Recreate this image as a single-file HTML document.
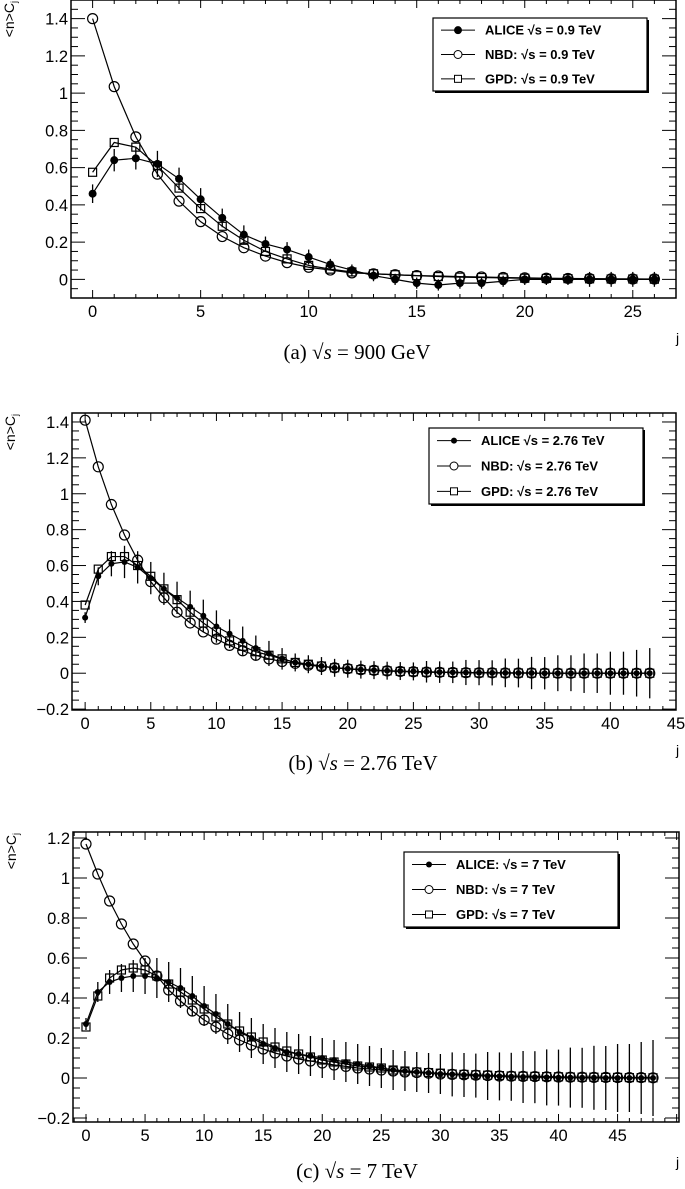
<!DOCTYPE html>
<html><head><meta charset="utf-8"><style>
html,body{margin:0;padding:0;background:#fff;}
svg{display:block;}
text{font-family:"Liberation Sans",sans-serif;fill:#000;}
.cap{font-family:"Liberation Serif",serif;font-size:21px;}
.leg{font-weight:bold;font-size:13px;}
</style></head><body>
<svg id="c" width="685" height="1189" viewBox="0 0 685 1189" xmlns="http://www.w3.org/2000/svg"></svg>
<script>
// Panel (a) sqrt(s)=0.9 TeV
const aAlice=[.46,.64,.65,.62,.54,.43,.33,.24,.19,.16,.12,.08,.05,.02,0,-.02,-.03,-.02,-.02,-.01,0,0,0,0,0,0,0];
const aAliceErr=[.05,.06,.06,.07,.06,.06,.05,.05,.04,.04,.04,.03,.03,.03,.03,.03,.03,.03,.03,.03,.03,.03,.03,.04,.04,.04,.04];
const aNBD=[1.40,1.035,.765,.565,.42,.31,.23,.17,.125,.09,.065,.05,.035,.03,.025,.02,.018,.015,.013,.01,.008,.006,.005,.004,.003,.002,.002];
const aGPD=[.575,.735,.71,.61,.49,.38,.285,.21,.15,.11,.075,.055,.04,.03,.025,.02,.015,.012,.01,.008,.006,.005,.004,.003,.002,.002,.001];
// Panel (b) sqrt(s)=2.76 TeV
const bAlice=[.31,.54,.61,.62,.59,.53,.47,.42,.37,.32,.26,.22,.18,.14,.11,.08,.06,.05,.04,.03,.025,.02,.017,.014,.012,.01,.008,.006,.005,.004,.003,.002,.002,.001,.001,0,0,0,0,0,0,0,0,0];
const bAliceErr=[.03,.05,.07,.09,.09,.09,.09,.09,.09,.09,.09,.08,.08,.07,.07,.06,.05,.05,.05,.05,.05,.05,.05,.05,.05,.05,.06,.06,.06,.07,.07,.07,.08,.08,.09,.09,.1,.1,.11,.11,.12,.12,.13,.14];
const bNBD=[1.41,1.15,.94,.77,.63,.51,.42,.34,.28,.23,.19,.155,.125,.10,.08,.065,.055,.045,.037,.03,.025,.02,.016,.013,.01,.008,.006,.005,.004,.003,.002,.002,.001,.001,.001,0,0,0,0,0,0,0,0,0];
const bGPD=[.38,.58,.65,.65,.60,.54,.47,.41,.34,.28,.23,.18,.15,.12,.10,.08,.06,.05,.04,.03,.025,.02,.016,.013,.01,.008,.006,.005,.004,.003,.002,.002,.001,.001,.001,0,0,0,0,0,0,0,0,0];
// Panel (c) sqrt(s)=7 TeV
const cAlice=[.27,.43,.48,.50,.51,.51,.50,.48,.45,.41,.36,.32,.27,.23,.20,.17,.15,.13,.12,.11,.10,.09,.08,.07,.06,.05,.04,.035,.03,.025,.02,.018,.015,.012,.01,.008,.006,.005,.004,.003,.002,.002,.001,.001,0,0,0,0,0];
const cAliceErr=[.03,.05,.06,.07,.08,.09,.1,.1,.1,.1,.1,.1,.1,.1,.1,.1,.1,.1,.1,.1,.1,.1,.1,.1,.1,.1,.1,.1,.1,.1,.1,.11,.11,.11,.12,.12,.12,.13,.13,.14,.14,.15,.15,.16,.16,.17,.17,.18,.19];
const cNBD=[1.17,1.02,.885,.77,.67,.585,.51,.44,.385,.335,.29,.255,.22,.19,.165,.145,.125,.11,.095,.085,.075,.065,.058,.05,.045,.04,.035,.03,.027,.024,.02,.018,.016,.014,.012,.01,.009,.008,.007,.006,.005,.004,.004,.003,.003,.002,.002,.002,.001];
const cGPD=[.255,.41,.50,.54,.55,.54,.51,.47,.43,.39,.345,.305,.27,.235,.205,.18,.155,.135,.12,.105,.09,.08,.07,.06,.055,.05,.04,.035,.03,.027,.024,.02,.018,.016,.014,.012,.01,.009,.008,.007,.006,.005,.004,.004,.003,.003,.002,.002,.001];
const aYTicks=["0","0.2","0.4","0.6","0.8","1","1.2","1.4"];
const bYTicks=["−0.2","0","0.2","0.4","0.6","0.8","1","1.2","1.4"];
const cYTicks=["−0.2","0","0.2","0.4","0.6","0.8","1","1.2"];
const aXTicks=[0,5,10,15,20,25];
const bXTicks=[0,5,10,15,20,25,30,35,40,45];
const cXTicks=[0,5,10,15,20,25,30,35,40,45];
const aLegend=["ALICE  √s = 0.9 TeV","NBD:  √s = 0.9 TeV","GPD:  √s = 0.9 TeV"];
const bLegend=["ALICE  √s = 2.76 TeV","NBD:  √s = 2.76 TeV","GPD:  √s = 2.76 TeV"];
const cLegend=["ALICE:  √s = 7 TeV","NBD:  √s = 7 TeV","GPD:  √s = 7 TeV"];

const NS="http://www.w3.org/2000/svg";
const svg=document.getElementById('c');
function mk(t,at,parent){const e=document.createElementNS(NS,t);for(const k in at)e.setAttribute(k,at[k]);(parent||svg).appendChild(e);return e;}

function panel(P){
  const g=mk('g',{});
  
  
  const X=v=>P.L+(v-P.x0)/(P.x1-P.x0)*(P.R-P.L);
  const Y=v=>P.B-(v-P.y0)/(P.y1-P.y0)*(P.B-P.T);
  const fr=mk('rect',{x:P.L,y:P.T,width:P.R-P.L,height:P.B-P.T,fill:'none',stroke:'#000','stroke-width':1.5},g);
  
  
  for(let v=Math.ceil(P.x0);v<=P.x1;v++){
    const big=v%5===0, len=big?8:4, x=X(v);
    mk('line',{x1:x,x2:x,y1:P.B,y2:P.B-len,stroke:'#000'},g);
    mk('line',{x1:x,x2:x,y1:P.T,y2:P.T+len,stroke:'#000'},g);
  }
  P.xt.forEach(v=>{const t=mk('text',{x:X(v),y:P.B+19,'text-anchor':'middle','font-size':16.5},g);t.textContent=v;
    
    });
  for(let k=Math.round(P.y0/0.05);k*0.05<=P.y1+1e-9;k++){
    const v=k*0.05,big=k%4===0,len=big?14:7,y=Y(v);
    mk('line',{x1:P.L,x2:P.L+len,y1:y,y2:y,stroke:'#000'},g);
    mk('line',{x1:P.R,x2:P.R-len,y1:y,y2:y,stroke:'#000'},g);
  }
  P.yt.forEach(s=>{const v=parseFloat(s.replace('−','-'));const t=mk('text',{x:P.L-3,y:Y(v)+6,'text-anchor':'end','font-size':16.5},g);t.textContent=s;
    
    });
  const yt=mk('text',{transform:`translate(${P.L-57},${P.T+1}) rotate(-90)`,'text-anchor':'end','font-size':14},g);
  yt.innerHTML='&lt;n&gt;C<tspan font-size="9" dy="3">j</tspan>';
  
  
  const xt=mk('text',{x:676,y:P.B+45,'font-size':14},g);xt.textContent='j';
  
  
  function series(vals,kind,name){
    const sg=mk('g',{},g);
    
    
    mk('polyline',{points:vals.map((v,i)=>X(i)+','+Y(v)).join(' '),fill:'none',stroke:'#000','stroke-width':1.2},sg);
    vals.forEach((v,i)=>{
      const x=X(i),y=Y(v);
      if(kind==='alice'){
        const e=P.err[i];
        const eb=mk('line',{x1:x,x2:x,y1:Y(v+e),y2:Y(v-e),stroke:'#000','stroke-width':1.3},sg);
        
        
        const c=mk('circle',{cx:x,cy:y,r:P.dot,fill:'#000'},sg);
        
        
      }else if(kind==='nbd'){
        const c=mk('circle',{cx:x,cy:y,r:5,fill:'none',stroke:'#000','stroke-width':1.2},sg);
        
        
      }else{
        const r=mk('rect',{x:x-4,y:y-4,width:8,height:8,fill:'none',stroke:'#000','stroke-width':1.2},sg);
        
        
      }
    });
  }
  series(P.gpd,'gpd','gpd-series');
  series(P.nbd,'nbd','nbd-series');
  series(P.alice,'alice','alice-series');
  const lg=mk('g',{},g);
  
  
  const lw=P.lg[2],lh=P.lg[3];
  mk('rect',{x:P.lg[0]+2,y:P.lg[1]+2,width:lw,height:lh,fill:'#000'},lg);
  mk('rect',{x:P.lg[0],y:P.lg[1],width:lw,height:lh,fill:'#fff',stroke:'#000','stroke-width':1.2},lg);
  ['alice','nbd','gpd'].forEach((k,i)=>{
    const cy=P.lg[1]+lh*(i+0.5)/3, x0=P.lg[0]+8, cx=x0+17;
    const e=mk('g',{},lg);
    
    
    mk('line',{x1:x0,x2:x0+34,y1:cy,y2:cy,stroke:'#000'},e);
    if(k==='alice')mk('circle',{cx,cy,r:P.dot,fill:'#000'},e);
    else if(k==='nbd')mk('circle',{cx,cy,r:4,fill:'#fff',stroke:'#000'},e);
    else mk('rect',{x:cx-3.5,y:cy-3.5,width:7,height:7,fill:'#fff',stroke:'#000'},e);
    const t=mk('text',{x:x0+44,y:cy+4.5,class:'leg'},e);t.textContent=P.leg[i];
  });
  const cap=mk('text',{x:P.capX,y:P.capY,class:'cap','text-anchor':'middle'},g);
  cap.innerHTML=P.cap;
  
  
}

panel({name:'panel-a',L:71,R:676,T:0,B:298,x0:-1,x1:27,y0:-0.1,y1:1.5,alice:aAlice,err:aAliceErr,nbd:aNBD,gpd:aGPD,
  xt:aXTicks,yt:aYTicks,leg:aLegend,lg:[433,18,214,73],dot:4,capX:357,capY:359,
  cap:'(a) <tspan font-style="italic">√s</tspan> = 900 GeV'});
panel({name:'panel-b',L:72,R:676,T:413,B:710,x0:-1,x1:45,y0:-0.205,y1:1.45,alice:bAlice,err:bAliceErr,nbd:bNBD,gpd:bGPD,
  xt:bXTicks,yt:bYTicks,leg:[...bLegend],lg:[429,428,214,76],dot:3,capX:363,capY:770,
  cap:'(b) <tspan font-style="italic">√s</tspan> = 2.76 TeV'});
panel({name:'panel-c',L:73,R:679,T:832,B:1122,x0:-1.1,x1:50.2,y0:-0.22,y1:1.23,alice:cAlice,err:cAliceErr,nbd:cNBD,gpd:cGPD,
  xt:cXTicks,yt:cYTicks,leg:cLegend,lg:[404,852,214,75],dot:3,capX:357,capY:1178,
  cap:'(c) <tspan font-style="italic">√s</tspan> = 7 TeV'});
</script>
</body></html>
